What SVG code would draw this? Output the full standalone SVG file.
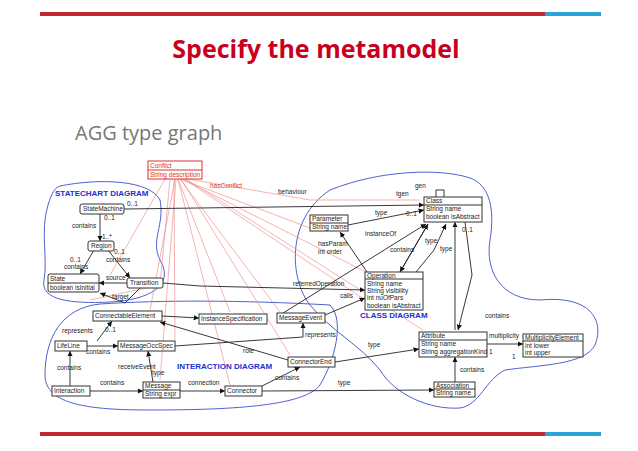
<svg xmlns="http://www.w3.org/2000/svg" width="638" height="451" viewBox="0 0 638 451">
<defs>
<style>
.n{fill:#fff;stroke:#333;stroke-width:1}
.t{font-family:"Liberation Sans",Arial,sans-serif;font-size:6.5px;fill:#222}
.r{fill:#e03030}
.e{stroke:#222;stroke-width:0.9;fill:none}
.c{stroke:#f08080;stroke-width:0.6;fill:none}
.b{stroke:#5060d0;stroke-width:1;fill:none}
.bl{font-family:"Liberation Sans",Arial,sans-serif;font-size:8px;font-weight:bold;fill:#2030d0}
</style>
<marker id="a" viewBox="0 0 10 10" refX="10" refY="5" markerWidth="6" markerHeight="6" orient="auto"><path d="M0,0L10,5L0,10z" fill="#111"/></marker>
</defs>
<rect width="638" height="451" fill="#fff"/>
<rect x="40" y="12" width="505" height="4" fill="#c0282d"/><rect x="545" y="12" width="56" height="4" fill="#2aa5d8"/>
<rect x="40" y="432" width="505" height="4" fill="#c0282d"/><rect x="545" y="432" width="56" height="4" fill="#2aa5d8"/>
<text x="316" y="58" text-anchor="middle" style="font-family:'Open Sans',sans-serif;font-size:25px;font-weight:bold;fill:#c8001e">Specify the metamodel</text>
<text x="75" y="140" style="font-family:'Open Sans',sans-serif;font-size:20px;fill:#777">AGG type graph</text>
<g id="blobs">
<path class="b" d="M60,186 C100,178 150,180 160,200 C165,225 150,240 160,260 C175,285 150,300 110,302 C70,304 40,300 44,280 C48,260 40,230 48,205 C52,192 55,188 60,186z"/>
<path class="b" d="M330,190 C380,170 440,168 470,178 C490,185 495,210 490,240 C485,270 500,300 540,300 C590,295 605,320 595,345 C585,365 540,365 505,370 C485,380 480,405 460,408 C430,410 395,395 380,370 C360,345 330,330 310,305 C290,280 285,220 330,190z"/>
<path class="b" d="M100,304 C160,300 240,300 330,305 C345,320 335,360 320,385 C305,405 240,410 150,410 C90,410 45,405 45,375 C45,340 60,308 100,304z"/>
</g>
<g id="connectors">
<g class="c">
<path d="M165,179 L110,275"/><path d="M170,179 L160,285 L90,300"/><path d="M180,179 L310,228"/><path d="M182,179 L366,272"/><path d="M184,179 L365,300"/><path d="M186,179 L423,330"/><path d="M174,179 L175,340"/><path d="M176,179 L160,380"/><path d="M178,179 L230,385"/><path d="M181,179 L290,355"/><path d="M180,179 L280,312"/><path d="M178,179 L230,312"/><path d="M175,179 L150,310"/><path d="M188,179 L310,200 L420,200"/>
</g>
<text x="210" y="188" class="t" style="fill:#e03030">hasConflict</text>
<path class="e" d="M124,209 L424,205" marker-end="url(#a)"/><text x="278" y="194" class="t">behaviour</text>
<text x="127" y="206" class="t">0..1</text>
<path class="e" d="M100,213 L100,241" marker-end="url(#a)"/><text x="72" y="228" class="t">contains</text><text x="104" y="220" class="t">0..1</text><text x="102" y="239" class="t">1..*</text>
<path class="e" d="M94,250 L80,274" marker-end="url(#a)"/><text x="70" y="262" class="t">0..1</text><text x="64" y="269" class="t">contains</text>
<path class="e" d="M108,250 L130,278" marker-end="url(#a)"/><text x="114" y="254" class="t">0..1</text><text x="106" y="262" class="t">contains</text>
<path class="e" d="M127,283 L99,283" marker-end="url(#a)"/><text x="106" y="280" class="t">source</text>
<path class="e" d="M140,288 L125,303 L100,293" marker-end="url(#a)"/><text x="112" y="299" class="t">target</text>
<path class="e" d="M163,283 L200,286 L365,290" marker-end="url(#a)"/><text x="293" y="286" class="t">referredOperation</text>
<path class="e" d="M348,225 L424,210" marker-end="url(#a)"/><text x="375" y="215" class="t">type</text><text x="406" y="216" class="t">0..1</text>
<path class="e" d="M367,272 L340,232" marker-end="url(#a)"/><text x="318" y="246" class="t">hasParam</text><text x="318" y="254" class="t">int  order</text>
<path class="e" d="M400,272 L428,224" marker-end="url(#a)"/><path class="e" d="M428,224 L400,272" marker-end="url(#a)"/><text x="390" y="252" class="t">contains</text>
<path class="e" d="M416,272 L434,250 L446,224" marker-end="url(#a)"/><text x="425" y="243" class="t">type</text><text x="440" y="251" class="t">type</text>
<path class="e" d="M455,330 L455,222" marker-end="url(#a)"/>
<path class="e" d="M465,222 L472,275 L458,330" marker-end="url(#a)"/><text x="485" y="318" class="t">contains</text><text x="462" y="232" class="t">0..1</text>
<path class="e" d="M280,315 L426,224" marker-end="url(#a)"/><text x="365" y="236" class="t">instanceOf</text>
<path class="e" d="M325,315 L365,298" marker-end="url(#a)"/><text x="340" y="298" class="t">calls</text>
<path class="e" d="M436,197 L436,190 L444,190 L444,197"/><text x="415" y="188" class="t">gen</text><text x="396" y="196" class="t">tgen</text>
<path class="e" d="M162,316 L199,318" marker-end="url(#a)"/>
<path class="e" d="M97,341 L112,321" marker-end="url(#a)"/><text x="62" y="333" class="t">represents</text><text x="105" y="332" class="t">0..1</text>
<path class="e" d="M87,346 L118,346" marker-end="url(#a)"/><text x="86" y="354" class="t">contains</text>
<path class="e" d="M175,346 L303,337 L303,323" marker-end="url(#a)"/><text x="305" y="337" class="t">represents</text>
<path class="e" d="M288,360 L160,322" marker-end="url(#a)"/><text x="243" y="353" class="t">role</text>
<path class="e" d="M70,386 L70,351" marker-end="url(#a)"/><text x="57" y="370" class="t">contains</text>
<path class="e" d="M90,391 L143,391" marker-end="url(#a)"/><text x="100" y="385" class="t">contains</text>
<path class="e" d="M153,382 L148,351" marker-end="url(#a)"/><text x="118" y="369" class="t">receiveEvent</text><text x="152" y="375" class="t">type</text>
<path class="e" d="M180,391 L225,391" marker-end="url(#a)"/><text x="188" y="385" class="t">connection</text>
<path class="e" d="M262,386 L300,367" marker-end="url(#a)"/><text x="275" y="380" class="t">contains</text>
<path class="e" d="M262,391 L434,390" marker-end="url(#a)"/><text x="338" y="385" class="t">type</text>
<path class="e" d="M335,362 L419,349" marker-end="url(#a)"/><text x="368" y="347" class="t">type</text>
<path class="e" d="M487,344 L523,344" marker-end="url(#a)"/><text x="489" y="338" class="t">multiplicity</text>
<path class="e" d="M455,382 L455,357" marker-end="url(#a)"/><text x="460" y="372" class="t">contains</text>
<text x="512" y="359" class="t">1</text><text x="489" y="354" class="t">1</text>
</g>
<g id="Conflict"><rect x="148" y="161" width="54" height="18" fill="#fff" stroke="#e03030"/><line x1="148" y1="170" x2="202" y2="170" stroke="#e03030"/><text x="150" y="168" class="t r">Conflict</text><text x="150" y="177" class="t r">String  description</text></g>
<g id="StateMachine"><rect class="n" x="80" y="204" width="44" height="10" rx="2"/><text x="83" y="211" class="t">StateMachine</text></g>
<g id="Region"><rect class="n" x="88" y="241" width="26" height="10" rx="2"/><text x="91" y="248" class="t">Region</text></g>
<g id="State"><rect class="n" x="48" y="274" width="51" height="18" rx="2"/><line x1="48" y1="283" x2="99" y2="283" stroke="#333"/><text x="50" y="281" class="t">State</text><text x="50" y="290" class="t">boolean  isInitial</text></g>
<g id="Transition"><rect class="n" x="127" y="278" width="36" height="10" rx="2"/><text x="130" y="285" class="t">Transition</text></g>
<g id="Parameter"><rect class="n" x="310" y="215" width="38" height="16"/><line x1="310" y1="223" x2="348" y2="223" stroke="#333"/><text x="312" y="221" class="t">Parameter</text><text x="312" y="229" class="t">String  name</text></g>
<g id="Class"><rect class="n" x="424" y="197" width="58" height="25"/><line x1="424" y1="205" x2="482" y2="205" stroke="#333"/><text x="426" y="203" class="t">Class</text><text x="426" y="211" class="t">String  name</text><text x="426" y="219" class="t">boolean  isAbstract</text></g>
<g id="Operation"><rect class="n" x="365" y="272" width="58" height="38"/><line x1="365" y1="279" x2="423" y2="279" stroke="#333"/><text x="367" y="278" class="t">Operation</text><text x="367" y="286" class="t">String  name</text><text x="367" y="293" class="t">String  visibility</text><text x="367" y="300" class="t">int  nuOfPars</text><text x="367" y="308" class="t">boolean  isAbstract</text></g>
<g id="ConnectableElement"><rect class="n" x="93" y="311" width="69" height="10"/><text x="95" y="318" class="t">ConnectableElement</text></g>
<g id="InstanceSpecification"><rect class="n" x="199" y="314" width="68" height="10"/><text x="201" y="321" class="t">InstanceSpecification</text></g>
<g id="MessageEvent"><rect class="n" x="277" y="313" width="48" height="10"/><text x="279" y="320" class="t">MessageEvent</text></g>
<g id="LifeLine"><rect class="n" x="55" y="341" width="32" height="10"/><text x="57" y="348" class="t">LifeLine</text></g>
<g id="MessageOccSpec"><rect class="n" x="118" y="341" width="57" height="10"/><text x="120" y="348" class="t">MessageOccSpec</text></g>
<g id="ConnectorEnd"><rect class="n" x="288" y="357" width="47" height="10"/><text x="290" y="364" class="t">ConnectorEnd</text></g>
<g id="Interaction"><rect class="n" x="52" y="386" width="38" height="10"/><text x="54" y="393" class="t">Interaction</text></g>
<g id="Message"><rect class="n" x="143" y="382" width="37" height="16"/><line x1="143" y1="390" x2="180" y2="390" stroke="#333"/><text x="145" y="388" class="t">Message</text><text x="145" y="396" class="t">String  expr</text></g>
<g id="Connector"><rect class="n" x="225" y="386" width="37" height="10"/><text x="227" y="393" class="t">Connector</text></g>
<g id="Attribute"><rect class="n" x="419" y="332" width="68" height="25"/><line x1="419" y1="340" x2="487" y2="340" stroke="#333"/><text x="421" y="338" class="t">Attribute</text><text x="421" y="346" class="t">String  name</text><text x="421" y="354" class="t">String  aggregationKind</text></g>
<g id="MultiplicityElement"><rect class="n" x="523" y="334" width="60" height="23"/><line x1="523" y1="341" x2="583" y2="341" stroke="#333"/><text x="525" y="340" class="t">MultiplicityElement</text><text x="525" y="348" class="t">int  lower</text><text x="525" y="355" class="t">int  upper</text></g>
<g id="Association"><rect class="n" x="434" y="382" width="41" height="15"/><line x1="434" y1="389" x2="475" y2="389" stroke="#333"/><text x="436" y="388" class="t">Association</text><text x="436" y="395" class="t">String  name</text></g>
<text x="55" y="196" class="bl">STATECHART DIAGRAM</text>
<text x="360" y="318" class="bl">CLASS DIAGRAM</text>
<text x="177" y="369" class="bl">INTERACTION DIAGRAM</text>
</svg>
